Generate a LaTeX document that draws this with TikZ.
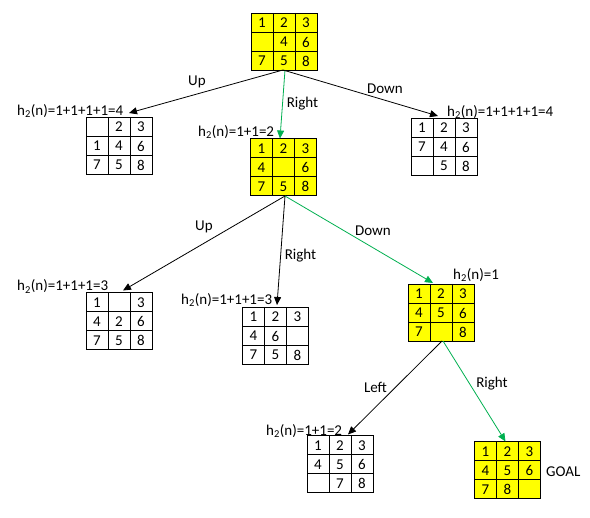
\documentclass[tikz,border=0pt]{standalone}
\usepackage{fontspec}
\setmainfont{Carlito}
\usetikzlibrary{arrows.meta,calc}
\definecolor{ogreen}{RGB}{0,176,80}
\definecolor{pyellow}{RGB}{255,255,0}
\tikzset{
  grid/.style={draw, line width=0.9pt, minimum width=66pt, minimum height=57pt, inner sep=0pt, outer sep=0pt},
  gline/.style={line width=0.9pt},
  txt/.style={font=\fontsize{15}{18}\selectfont, inner sep=0pt},
  arr/.style={line width=0.8pt, -{Triangle[length=8pt,width=7pt]}},
  garr/.style={arr, draw=ogreen},
}
\newcommand\puzzle[4]{%
  \node[grid, fill=#3] (#1) at (#2) {};
  \foreach \k in {1,2} {
    \draw[gline] ($(#1.north west)+(22*\k,0)$) -- ($(#1.south west)+(22*\k,0)$);
    \draw[gline] ($(#1.north west)+(0,19*\k)$) -- ($(#1.north east)+(0,19*\k)$);
  }
  \foreach \v [count=\i from 0] in {#4} {
    \pgfmathtruncatemacro\rr{div(\i,3)}
    \pgfmathtruncatemacro\cc{mod(\i,3)}
    \node[txt] (#1-\i) at ($(#1.north west)+(11+22*\cc,10+19*\rr)$) {\v};
  }
}
\begin{document}
\begin{tikzpicture}[x=1pt,y=-1pt]
\useasboundingbox[fill=white] (0,0) rectangle (590,518);
\puzzle{top}{284,41.5}{pyellow}{1,2,3,,4,6,7,5,8}
\puzzle{la}{119,145.5}{white}{,2,3,1,4,6,7,5,8}
\puzzle{lb}{283.5,167}{pyellow}{1,2,3,4,,6,7,5,8}
\puzzle{lc}{444,146.5}{white}{1,2,3,7,4,6,,5,8}
\puzzle{ma}{119,321}{white}{1,,3,4,2,6,7,5,8}
\puzzle{mb}{275.5,335.5}{white}{1,2,3,4,6,,7,5,8}
\puzzle{mc}{441,312.5}{pyellow}{1,2,3,4,5,6,7,,8}
\puzzle{na}{340,464}{white}{1,2,3,4,5,6,,7,8}
\puzzle{goal}{507.5,470}{pyellow}{1,2,3,4,5,6,7,8,}

% heuristic labels
\node[txt, anchor=west] (hla) at (17,111) {h\textsubscript{2}(n)=1+1+1+1=4};
\node[txt, anchor=west] (hlb) at (198,132) {h\textsubscript{2}(n)=1+1=2};
\node[txt, anchor=west] (hlc) at (447,112) {h\textsubscript{2}(n)=1+1+1+1=4};
\node[txt, anchor=west] (hma) at (17,286.5) {h\textsubscript{2}(n)=1+1+1=3};
\node[txt, anchor=west] (hmb) at (181,300) {h\textsubscript{2}(n)=1+1+1=3};
\node[txt, anchor=west] (hmc) at (453,275) {h\textsubscript{2}(n)=1};
\node[txt, anchor=west] (hna) at (266,431) {h\textsubscript{2}(n)=1+1=2};
\node[txt, anchor=west] (goaltxt) at (546,472) {GOAL};

% connectors
\draw[arr]  ($(top.south)+(-1,0)$) -- ($(la.north)+(10,-4)$);
\draw[garr] ($(top.south)+(1,0)$) -- ($(lb.north)+(-3.5,0)$);
\draw[arr]  ($(top.south)+(-1,0)$) -- ($(lc.north)+(-6,-2)$);
\draw[arr]  ($(lb.south)+(1.5,0.5)$) -- ($(ma.north)+(4,-2)$);
\draw[arr]  ($(lb.south)+(1.5,0.5)$) -- ($(mb.north)+(1.5,-2)$);
\draw[garr] ($(lb.south)+(1.5,0.5)$) -- ($(mc.north)+(-8,-1)$);
\draw[arr]  ($(mc.south)+(1,0)$) -- ($(na.north)+(8,-1)$);
\draw[garr] ($(mc.south)+(2,0)$) -- ($(goal.north)+(-2,0)$);

% edge labels
\node[txt] (e1) at (197,82) {Up};
\node[txt] (e2) at (302.5,104) {Right};
\node[txt] (e3) at (385,88.5) {Down};
\node[txt] (e4) at (204,227) {Up};
\node[txt] (e5) at (300.5,256) {Right};
\node[txt] (e6) at (373,231) {Down};
\node[txt] (e7) at (375.5,387) {Left};
\node[txt] (e8) at (492,384) {Right};
\end{tikzpicture}
\end{document}
